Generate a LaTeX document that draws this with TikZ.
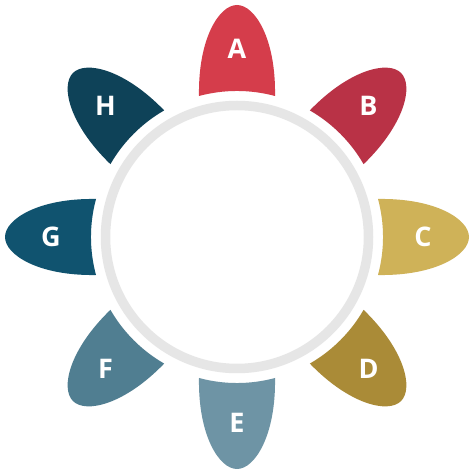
\documentclass[tikz,border=0pt]{standalone}
\usepackage{fontspec}
\usetikzlibrary{calc}
\newfontfamily\lblfont{Open Sans}
\definecolor{cA}{RGB}{213,61,75}
\definecolor{cB}{RGB}{185,50,70}
\definecolor{cC}{RGB}{207,178,88}
\definecolor{cD}{RGB}{170,139,55}
\definecolor{cE}{RGB}{110,148,165}
\definecolor{cF}{RGB}{80,126,145}
\definecolor{cG}{RGB}{16,83,111}
\definecolor{cH}{RGB}{14,66,88}
\definecolor{ringgray}{RGB}{230,230,230}
\tikzset{
  lbl/.style={text=white, font=\lblfont\bfseries\fontsize{27}{27}\selectfont, inner sep=0pt, anchor=center}
}
\newcommand{\petal}[2]{%
  \begin{scope}[shift={(237,237)}, rotate=#1]
    \fill[#2] (141,-38) .. controls (198,-39) and (232,-18) .. (232,0)
      .. controls (232,18) and (198,39) .. (141,38)
      arc[start angle=15.08, end angle=-15.08, radius=146] -- cycle;
  \end{scope}}
\begin{document}
\begin{tikzpicture}[x=1pt,y=1pt]
\useasboundingbox (0,0) rectangle (474,474);
\fill[white] (0,0) rectangle (474,474);
\coordinate (ctr) at (237,237);
\draw[ringgray, line width=9.5pt] (ctr) circle[radius=131.5];
\petal{90}{cA}
\petal{45}{cB}
\petal{0}{cC}
\petal{-45}{cD}
\petal{-90}{cE}
\petal{-135}{cF}
\petal{180}{cG}
\petal{135}{cH}
\node[lbl] (a) at ($(ctr)+(90:188)$) {A};
\node[lbl] (b) at ($(ctr)+(45:186)$) {B};
\node[lbl] (c) at ($(ctr)+(0:186)$) {C};
\node[lbl] (d) at ($(ctr)+(-45:186)$) {D};
\node[lbl] (e) at ($(ctr)+(-90:186)$) {E};
\node[lbl] (f) at ($(ctr)+(-135:186)$) {F};
\node[lbl] (g) at ($(ctr)+(180:186)$) {G};
\node[lbl] (h) at ($(ctr)+(135:186)$) {H};
\end{tikzpicture}
\end{document}
